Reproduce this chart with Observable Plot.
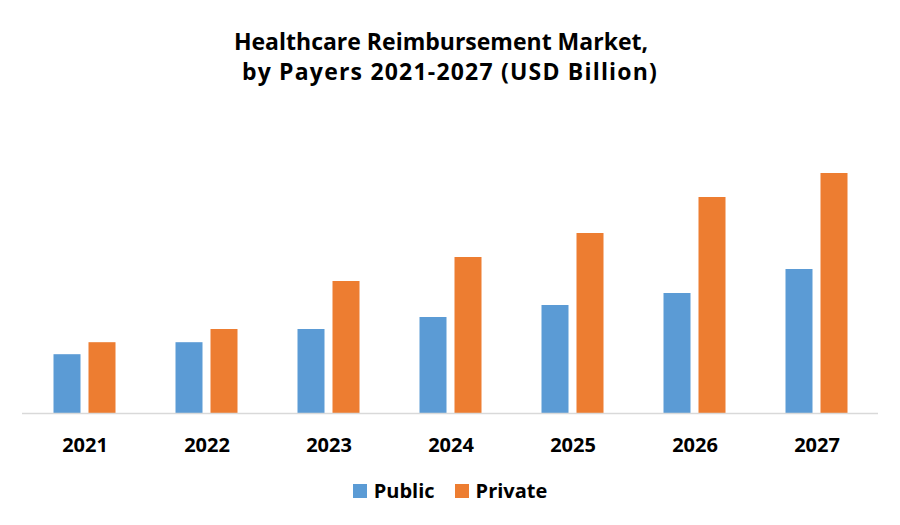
<!DOCTYPE html>
<html>
<head>
<meta charset="utf-8">
<script src="https://cdn.jsdelivr.net/npm/d3@7"></script>
<script src="https://cdn.jsdelivr.net/npm/@observablehq/plot@0.6"></script>
<style>
  html, body { margin: 0; padding: 0; background: #fff; }
  body { width: 900px; height: 525px; overflow: hidden; font-family: "Open Sans", sans-serif; }
  #title { height: 95px; box-sizing: border-box; padding-top: 26px; text-align: center;
    font-weight: 700; font-size: 23px; line-height: 30px; color: #000; }
  #t1 { padding-right: 18px; }
  #t2 { letter-spacing: 1.2px; }
  #chart { height: 365px; }
  #legend { margin-top: 20px; display: flex; justify-content: center; align-items: center;
    font-weight: 700; font-size: 20px; color: #000; line-height: 22px; }
  .item { display: flex; align-items: center; margin: 0 10px; }
  .sw { width: 14px; height: 14px; margin-right: 7px; }
</style>
</head>
<body>
<div id="title"><div id="t1">Healthcare Reimbursement Market,</div><div id="t2">by Payers 2021-2027 (USD Billion)</div></div>
<div id="chart"></div>
<div id="legend"></div>
<script>
const years = ["2021", "2022", "2023", "2024", "2025", "2026", "2027"];
const publicValues = [4.9, 5.9, 7.0, 8.0, 9.0, 10.0, 12.0];
const privateValues = [5.9, 7.0, 11.0, 13.0, 15.0, 18.0, 20.0];
const seriesNames = ["Public", "Private"];
const seriesColors = ["#5B9BD5", "#ED7D31"];

const publicData = years.map((y, i) => ({year: y, value: publicValues[i]}));
const privateData = years.map((y, i) => ({year: y, value: privateValues[i]}));

const chart = Plot.plot({
  width: 900,
  height: 365,
  marginLeft: 22,
  marginRight: 22,
  marginTop: 30,
  marginBottom: 47,
  style: { fontFamily: "'Open Sans', sans-serif", background: "#fff" },
  x: { domain: years, paddingInner: 0.779, paddingOuter: 0.3895, label: null, tickSize: 0, tickPadding: 24 },
  y: { domain: [0, 24], axis: null },
  marks: [
    Plot.barY(publicData, { x: "year", y: "value", fill: seriesColors[0], dx: -17.5 }),
    Plot.barY(privateData, { x: "year", y: "value", fill: seriesColors[1], dx: 17.5 }),
    Plot.ruleY([0], { stroke: "#d9d9d9", strokeWidth: 1.5 })
  ]
});
chart.querySelectorAll('[aria-label="x-axis tick label"] text, g[aria-label="x-axis"] text').forEach(t => {
  t.style.fontSize = "20px"; t.style.fontWeight = "700"; t.setAttribute("fill", "#000");
});
document.getElementById("chart").appendChild(chart);

const legend = document.getElementById("legend");
seriesNames.forEach((n, i) => {
  const item = document.createElement("div");
  item.className = "item";
  const sw = document.createElement("div");
  sw.className = "sw";
  sw.style.background = seriesColors[i];
  const label = document.createElement("span");
  label.textContent = n;
  item.appendChild(sw);
  item.appendChild(label);
  legend.appendChild(item);
});
</script>
</body>
</html>
